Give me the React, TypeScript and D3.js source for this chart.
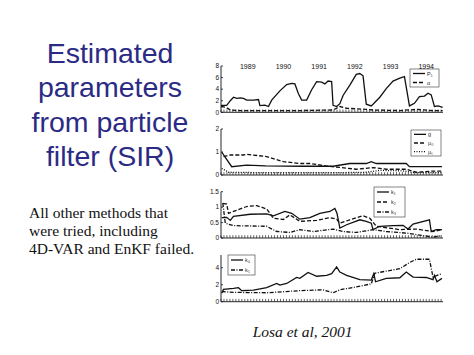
import React from "react";
import * as d3 from "d3";

// ---- data (decimal year, value) ----
const years = [1989, 1990, 1991, 1992, 1993, 1994];

const p1Solid: [number, number][] = [
  [1988.25, 1.2], [1988.41, 1.2], [1988.51, 2.0], [1988.6, 2.6], [1988.69, 2.4], [1988.79, 2.5],
  [1988.88, 2.4], [1988.97, 2.1], [1989.16, 2.1], [1989.3, 2.2], [1989.34, 1.15], [1989.48, 1.25],
  [1989.58, 1.0], [1989.67, 2.1], [1989.9, 3.7], [1990.09, 4.8], [1990.23, 5.0], [1990.32, 4.9],
  [1990.42, 3.2], [1990.51, 2.1], [1990.65, 2.1], [1990.79, 3.9], [1990.93, 5.3], [1991.07, 5.2],
  [1991.16, 4.9], [1991.25, 5.4], [1991.35, 5.3], [1991.39, 1.2], [1991.49, 1.0], [1991.58, 1.5],
  [1991.67, 2.9], [1991.86, 4.7], [1992.04, 6.55], [1992.14, 6.7], [1992.23, 6.3], [1992.32, 1.4],
  [1992.46, 1.1], [1992.51, 1.4], [1992.7, 2.6], [1992.88, 4.1], [1993.07, 5.4], [1993.26, 5.9],
  [1993.39, 6.15], [1993.53, 1.1], [1993.67, 1.55], [1993.81, 2.7], [1993.95, 2.8], [1994.05, 3.3],
  [1994.14, 3.0], [1994.23, 1.0], [1994.33, 1.1], [1994.46, 0.85],
];
const p1Dash: [number, number][] = [
  [1988.25, 1.0], [1988.37, 0.9], [1988.51, 0.4], [1988.79, 0.3], [1989.5, 0.3], [1990.5, 0.3],
  [1991.39, 0.4], [1991.58, 1.0], [1991.77, 0.7], [1992.04, 0.6], [1992.32, 0.5], [1992.51, 0.4],
  [1993.26, 0.3], [1993.72, 0.5], [1994.19, 0.3], [1994.46, 0.3],
];

const p2Solid: [number, number][] = [
  [1988.27, 1.0], [1988.37, 0.77], [1988.55, 0.36], [1988.97, 0.43], [1989.5, 0.4], [1990.5, 0.38],
  [1991.39, 0.38], [1991.86, 0.5], [1992.32, 0.5], [1992.46, 0.58], [1992.6, 0.5], [1993.44, 0.5],
  [1993.53, 0.36], [1994.44, 0.36],
];
const p2Dash: [number, number][] = [
  [1988.32, 0.8], [1988.51, 0.87], [1988.88, 0.87], [1988.97, 0.9], [1989.53, 0.8], [1990.0, 0.58],
  [1990.46, 0.5], [1990.74, 0.5], [1991.21, 0.39], [1991.58, 0.33], [1992.04, 0.25], [1992.51, 0.32],
  [1992.88, 0.25], [1993.44, 0.25], [1993.72, 0.12], [1994.19, 0.17], [1994.44, 0.17],
];
const p2Dot: [number, number][] = [
  [1988.27, 0.29], [1988.46, 0.12], [1989.5, 0.1], [1990.5, 0.1], [1991.5, 0.1], [1992.32, 0.12],
  [1992.7, 0.2], [1993.35, 0.18], [1993.67, 0.1], [1994.44, 0.1],
];

const p3Solid: [number, number][] = [
  [1988.27, 0.66], [1988.41, 0.67], [1988.51, 0.57], [1988.6, 0.7], [1989.07, 0.77], [1989.53, 0.78],
  [1989.72, 0.72], [1990.04, 0.86], [1990.23, 0.8], [1990.46, 0.61], [1990.74, 0.66], [1991.02, 0.8],
  [1991.3, 0.86], [1991.44, 0.96], [1991.5, 0.8], [1991.58, 0.32], [1991.77, 0.43], [1992.14, 0.59],
  [1992.32, 0.54], [1992.46, 0.48], [1992.51, 0.27], [1992.7, 0.38], [1993.07, 0.4], [1993.35, 0.41],
  [1993.49, 0.29], [1993.63, 0.45], [1994.09, 0.59], [1994.14, 0.21], [1994.28, 0.27], [1994.44, 0.27],
];
const p3Dash: [number, number][] = [
  [1988.3, 1.12], [1988.41, 1.1], [1988.46, 0.8], [1988.6, 0.86], [1988.97, 1.02], [1989.25, 1.05],
  [1989.53, 0.94], [1989.72, 0.64], [1990.0, 0.6], [1990.18, 0.75], [1990.46, 0.54], [1990.93, 0.57],
  [1991.3, 0.66], [1991.49, 0.61], [1991.58, 0.48], [1991.86, 0.59], [1992.23, 0.72], [1992.42, 0.64],
  [1992.6, 0.38], [1993.26, 0.27], [1993.72, 0.29], [1994.19, 0.21], [1994.44, 0.27],
];
const p3DashDot: [number, number][] = [
  [1988.3, 1.13], [1988.37, 0.48], [1988.6, 0.4], [1989.53, 0.38], [1989.81, 0.21], [1990.18, 0.18],
  [1990.46, 0.27], [1990.83, 0.21], [1991.39, 0.29], [1991.67, 0.21], [1992.04, 0.18], [1992.51, 0.27],
  [1992.88, 0.21], [1993.44, 0.16], [1994.19, 0.03], [1994.44, 0.07],
];

const p4Solid: [number, number][] = [
  [1988.27, 1.0], [1988.32, 1.45], [1988.6, 1.57], [1988.74, 1.65], [1988.83, 1.3], [1989.16, 1.37],
  [1989.53, 1.65], [1989.81, 2.15], [1989.9, 1.95], [1990.09, 2.15], [1990.37, 2.86], [1990.46, 2.75],
  [1990.69, 3.45], [1990.93, 3.0], [1991.21, 3.1], [1991.35, 3.3], [1991.49, 4.1], [1991.58, 3.5],
  [1991.77, 3.1], [1992.14, 2.6], [1992.46, 2.55], [1992.53, 3.3], [1992.58, 2.35], [1992.88, 2.75],
  [1993.26, 2.82], [1993.44, 3.5], [1993.63, 2.9], [1994.0, 2.85], [1994.19, 2.6], [1994.23, 3.1],
  [1994.3, 2.35], [1994.44, 2.75],
];
const p4DashDot: [number, number][] = [
  [1988.27, 1.2], [1988.6, 1.1], [1989.53, 1.05], [1990.46, 1.3], [1991.11, 1.4], [1991.39, 1.05],
  [1991.58, 1.4], [1992.04, 1.75], [1992.46, 2.1], [1992.56, 3.35], [1993.26, 3.9], [1993.53, 4.6],
  [1993.72, 5.0], [1994.09, 5.0], [1994.19, 2.9], [1994.37, 3.2], [1994.44, 3.3],
];

const p1Ticks = [0, 2, 4, 6, 8];
const p2Ticks = [0, 1, 2];
const p3Ticks = [0, 0.5, 1, 1.5];
const p4Ticks = [0, 2, 4];

const titleLines = ["Estimated", "parameters", "from particle", "filter (SIR)"];
const bodyLines = ["All other methods that", "were tried, including", "4D-VAR and EnKF failed."];

// ---- layout ----
const X0 = 221;
const X1 = 443;
const xDomain: [number, number] = [1988.25, 1994.47];

type Series = { data: [number, number][]; dash: string; label: string };
type Panel = {
  top: number;
  bottom: number;
  domain: [number, number];
  ticks: number[];
  series: Series[];
  legend: { x: number; y: number; w: number; h: number };
  yearLabels?: boolean;
};

const DASH = "4,2";
const DASHDOT = "4,1.5,1,1.5";
const DOT = "1,1.5";

const panels: Panel[] = [
  {
    top: 66, bottom: 112.3, domain: [0, 8], ticks: p1Ticks, yearLabels: true,
    series: [
      { data: p1Solid, dash: "", label: "P\u2081" },
      { data: p1Dash, dash: DASH, label: "\u03b1" },
    ],
    legend: { x: 410, y: 69, w: 29, h: 18 },
  },
  {
    top: 129, bottom: 175, domain: [0, 2], ticks: p2Ticks,
    series: [
      { data: p2Solid, dash: "", label: "g" },
      { data: p2Dash, dash: DASH, label: "\u03bc\u2080" },
      { data: p2Dot, dash: DOT, label: "\u03bc\u209b" },
    ],
    legend: { x: 411, y: 130, w: 30, h: 26 },
  },
  {
    top: 191.7, bottom: 238, domain: [0, 1.5], ticks: p3Ticks,
    series: [
      { data: p3Solid, dash: "", label: "k\u2081" },
      { data: p3Dash, dash: DASH, label: "k\u2082" },
      { data: p3DashDot, dash: DASHDOT, label: "k\u2083" },
    ],
    legend: { x: 374, y: 187, w: 31, h: 30 },
  },
  {
    top: 255, bottom: 301.7, domain: [0, 5.5], ticks: p4Ticks,
    series: [
      { data: p4Solid, dash: "", label: "k\u2084" },
      { data: p4DashDot, dash: DASHDOT, label: "k\u2085" },
    ],
    legend: { x: 228, y: 255, w: 27, h: 20 },
  },
];

const x = d3.scaleLinear().domain(xDomain).range([X0, X1]);
const monthTicks = d3.range(Math.ceil(xDomain[0] * 12), Math.floor(xDomain[1] * 12) + 1).map((m) => m / 12);

function PanelView({ p }: { p: Panel }) {
  const y = d3.scaleLinear().domain(p.domain).range([p.bottom, p.top]);
  const line = d3.line<[number, number]>().x((d) => x(d[0])).y((d) => y(d[1]));
  const n = p.series.length;
  const rowH = p.legend.h / n;
  return (
    <g>
      {p.series.map((s, i) => (
        <path key={i} d={line(s.data) || ""} fill="none" stroke="#111" strokeWidth={1.3}
          strokeDasharray={s.dash || undefined} />
      ))}
      {/* axes */}
      <line x1={X0} x2={X0} y1={y(p.domain[1])} y2={p.bottom} stroke="#111" strokeWidth={0.9} />
      <line x1={X0} x2={X1} y1={p.bottom} y2={p.bottom} stroke="#111" strokeWidth={0.9} />
      {monthTicks.map((m, i) => (
        <line key={i} x1={x(m)} x2={x(m)} y1={p.bottom} y2={p.bottom - 2.8} stroke="#222" strokeWidth={0.7} />
      ))}
      {p.ticks.map((t) => (
        <g key={t}>
          <line x1={X0} x2={X0 + 2} y1={y(t)} y2={y(t)} stroke="#111" strokeWidth={0.8} />
          <text x={X0 - 2} y={y(t) + 2.3} fontSize={6.5} textAnchor="end" fill="#111"
            fontFamily="Liberation Sans, Arial, sans-serif">{t}</text>
        </g>
      ))}
      {p.yearLabels && years.map((yr) => (
        <text key={yr} x={x(yr)} y={p.top + 2.8} fontSize={7} textAnchor="middle" fill="#111"
          fontFamily="Liberation Sans, Arial, sans-serif">{yr}</text>
      ))}
      {/* legend */}
      <rect x={p.legend.x} y={p.legend.y} width={p.legend.w} height={p.legend.h} fill="white" stroke="#333" strokeWidth={0.6} />
      {p.series.map((s, i) => {
        const ly = p.legend.y + rowH * (i + 0.5);
        return (
          <g key={i}>
            <line x1={p.legend.x + 3} x2={p.legend.x + 15} y1={ly} y2={ly} stroke="#111" strokeWidth={1.3}
              strokeDasharray={s.dash || undefined} />
            <text x={p.legend.x + 17} y={ly + 2} fontSize={5.5} fill="#333"
              fontFamily="Liberation Sans, Arial, sans-serif">{s.label}</text>
          </g>
        );
      })}
    </g>
  );
}

export default function App() {
  return (
    <svg width={474} height={355} style={{ position: "absolute", left: 0, top: 0 }}>
      <rect x={0} y={0} width={474} height={355} fill="white" />
      {titleLines.map((t, i) => (
        <text key={t} x={110} y={63 + i * 34.3} fontSize={28.5} textAnchor="middle" fill="#2b2b85"
          fontFamily="Liberation Sans, Arial, sans-serif">{t}</text>
      ))}
      {bodyLines.map((t, i) => (
        <text key={t} x={29} y={218.3 + i * 18} fontSize={15.5} fill="#111"
          fontFamily="Liberation Serif, Times New Roman, serif">{t}</text>
      ))}
      <text x={252.7} y={336.7} fontSize={15.5} fontStyle="italic" fill="#111"
        fontFamily="Liberation Serif, Times New Roman, serif">Losa et al, 2001</text>
      {panels.map((p, i) => <PanelView key={i} p={p} />)}
    </svg>
  );
}
